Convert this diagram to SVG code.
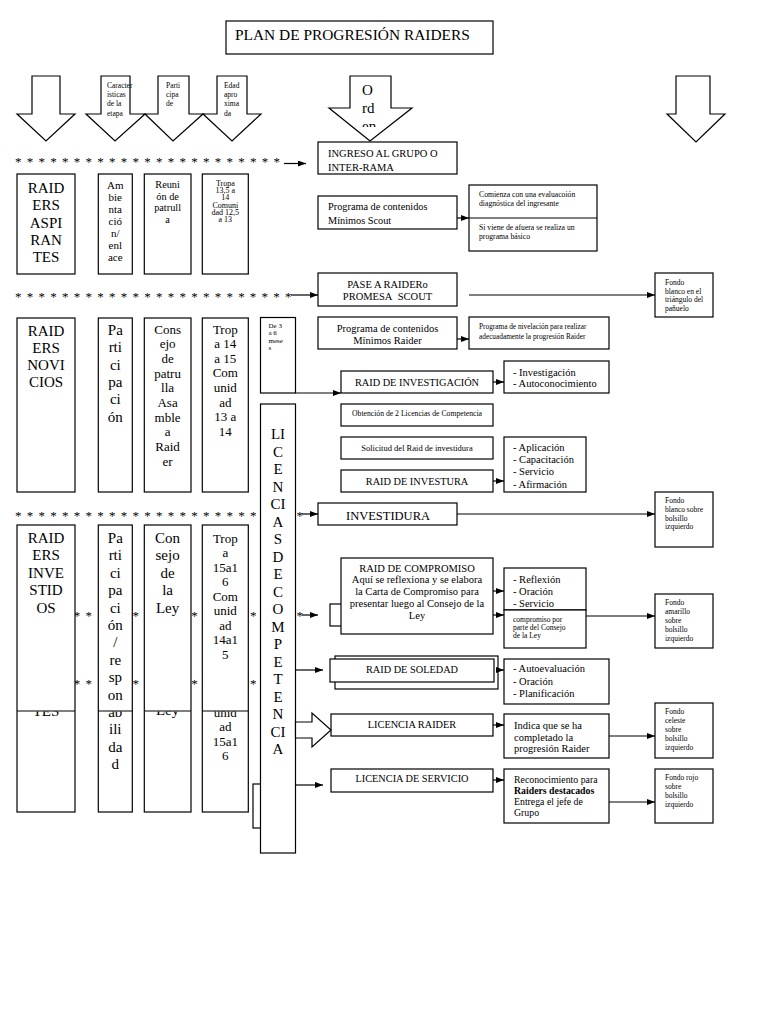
<svg xmlns="http://www.w3.org/2000/svg" width="768" height="1024" viewBox="0 0 768 1024">
<defs>
<style>
.b{fill:#fff;stroke:#000;stroke-width:1.2}
.ln{fill:none;stroke:#000;stroke-width:1.2}
.ar{fill:none;stroke:#000;stroke-width:1.2;marker-end:url(#ah)}
text{font-family:"Liberation Serif","Times New Roman",serif;fill:#000}
.m{text-anchor:middle}
.st{font-size:13px}
.f15{font-size:15px}
.f13{font-size:13px}
.f125{font-size:12.5px}
.f11{font-size:11px}
.f105{font-size:10.5px}
.f10{font-size:10.3px}
.f98{font-size:9.8px}
.f85{font-size:8.5px}
.f8{font-size:8px}
.f78{font-size:7.7px}
.f75{font-size:7.5px}
.f73{font-size:7.3px}
.f7{font-size:7px}
</style>
<marker id="ah" markerWidth="8" markerHeight="6" refX="8" refY="3" orient="auto" markerUnits="userSpaceOnUse"><path d="M0,0L8,3L0,6z" fill="#000"/></marker>
<clipPath id="cOrden"><rect x="330" y="76" width="80" height="51"/></clipPath>
<clipPath id="cLow"><rect x="0" y="711.6" width="259" height="100"/></clipPath>
</defs>
<rect width="768" height="1024" fill="#fff"/>

<g id="title"><rect class="b" x="226" y="21" width="267" height="33"/><text x="235" y="40" style="font-size:15.4px">PLAN DE PROGRESIÓN RAIDERS</text></g>

<g id="arrow-1"><polygon class="b" points="32,76 60,76 60,114 75,114 46,141 17,114 32,114"/></g>
<g id="arrow-caracteristicas"><polygon class="b" points="101,76 130,76 130,114 145,114 115,141 86,114 101,114"/>
<text class="f75"><tspan x="107" y="87.5">Caracter</tspan><tspan x="107" y="96.8">ísticas</tspan><tspan x="107" y="106.2">de la</tspan><tspan x="107" y="115.5">etapa</tspan></text></g>
<g id="arrow-participacion"><polygon class="b" points="158,76 189,76 189,114 203,114 173,141 145,114 158,114"/>
<text class="f75"><tspan x="166" y="87.5">Parti</tspan><tspan x="166" y="96.8">cipa</tspan><tspan x="166" y="106.2">de</tspan></text></g>
<g id="arrow-edad"><polygon class="b" points="217,76 247,76 247,114 261,114 232,141 203,114 217,114"/>
<text class="f75"><tspan x="224" y="87.5">Edad</tspan><tspan x="224" y="96.8">apro</tspan><tspan x="224" y="106.2">xima</tspan><tspan x="224" y="115.5">da</tspan></text></g>
<g id="arrow-orden"><polygon class="b" points="350,76 391,76 391,108 412,108 370,141 329,108 350,108"/>
<g clip-path="url(#cOrden)"><text class="f15"><tspan x="362" y="95">O</tspan><tspan x="362" y="113">rd</tspan><tspan x="362" y="131">en</tspan></text></g></g>
<g id="arrow-right"><polygon class="b" points="676,76 710,76 710,114 725,114 696,142 667,114 676,114"/></g>

<g id="stars">
<text class="st" x="15" y="166.2" textLength="265" lengthAdjust="spacing">* * * * * * * * * * * * * * * * * * * * * * *</text>
<text class="st" x="15" y="301.2" textLength="276.6" lengthAdjust="spacing">* * * * * * * * * * * * * * * * * * * * * * * *</text>
<text class="st" x="15" y="520.2" textLength="241.6" lengthAdjust="spacing">* * * * * * * * * * * * * * * * * * * * *</text>
<text class="st" y="520.2"><tspan x="296.5">*</tspan></text>
<text class="st" y="620.2"><tspan x="73.7">*</tspan><tspan x="85.5">*</tspan><tspan x="132.5">*</tspan><tspan x="191.3">*</tspan><tspan x="250">*</tspan><tspan x="296.5">*</tspan></text>
<text class="st" y="688.2"><tspan x="73.7">*</tspan><tspan x="85.5">*</tspan><tspan x="132.5">*</tspan><tspan x="191.3">*</tspan><tspan x="250">*</tspan></text>
</g>

<g id="ingreso"><rect class="b" x="318" y="142" width="139" height="32"/><text class="f105"><tspan x="328" y="156.5">INGRESO AL GRUPO O</tspan><tspan x="328" y="170.5">INTER-RAMA</tspan></text></g>
<g id="programa-scout"><rect class="b" x="318" y="196" width="139" height="33"/><text class="f10"><tspan x="328" y="210">Programa de contenidos</tspan><tspan x="328" y="223.5">Mínimos Scout</tspan></text></g>
<g id="comienza"><rect class="b" x="469" y="185" width="128" height="66"/><line class="ln" x1="469" y1="218" x2="597" y2="218"/>
<text class="f78"><tspan x="479" y="196.8">Comienza con una evaluacoión</tspan><tspan x="479" y="205.8">diagnóstica del ingresante</tspan><tspan x="479" y="229.8">Si viene de afuera se realiza un</tspan><tspan x="479" y="239">programa básico</tspan></text></g>

<g id="aspirantes"><rect class="b" x="17" y="174" width="58" height="100"/><text class="f15 m"><tspan x="46" y="193">RAID</tspan><tspan x="46" y="210.3">ERS</tspan><tspan x="46" y="227.6">ASPI</tspan><tspan x="46" y="244.9">RAN</tspan><tspan x="46" y="262.2">TES</tspan></text></g>
<g id="ambientacion"><rect class="b" x="98.3" y="174" width="34" height="100"/><text class="f11 m"><tspan x="115.3" y="188.6">Am</tspan><tspan x="115.3" y="200.7">bie</tspan><tspan x="115.3" y="212.8">nta</tspan><tspan x="115.3" y="224.9">ció</tspan><tspan x="115.3" y="237">n/</tspan><tspan x="115.3" y="249.1">enl</tspan><tspan x="115.3" y="261.2">ace</tspan></text></g>
<g id="reunion"><rect class="b" x="144.3" y="174" width="46.7" height="100"/><text class="f10 m"><tspan x="167.6" y="188">Reuni</tspan><tspan x="167.6" y="199.5">ón de</tspan><tspan x="167.6" y="211">patrull</tspan><tspan x="167.6" y="222.5">a</tspan></text></g>
<g id="tropa-1"><rect class="b" x="202.3" y="174" width="46" height="100"/><text class="f8 m"><tspan x="225.3" y="186">Tropa</tspan><tspan x="225.3" y="193.2">13,5 a</tspan><tspan x="225.3" y="200.4">14</tspan><tspan x="225.3" y="207.6">Comuni</tspan><tspan x="225.3" y="214.8">dad 12,5</tspan><tspan x="225.3" y="222">a 13</tspan></text></g>

<g id="pase"><rect class="b" x="318" y="273" width="139" height="33"/><text class="f105 m"><tspan x="387.5" y="288">PASE A RAIDERo</tspan><tspan x="387.5" y="300">PROMESA&#160; SCOUT</tspan></text></g>
<g id="fondo-1"><rect class="b" x="655" y="273" width="58" height="44"/><text class="f75"><tspan x="665" y="285.3">Fondo</tspan><tspan x="665" y="293.8">blanco en el</tspan><tspan x="665" y="302.3">triángulo del</tspan><tspan x="665" y="310.8">pañuelo</tspan></text></g>

<g id="novicios"><rect class="b" x="17" y="318" width="58" height="174"/><text class="f15 m"><tspan x="46" y="336">RAID</tspan><tspan x="46" y="353">ERS</tspan><tspan x="46" y="370">NOVI</tspan><tspan x="46" y="387">CIOS</tspan></text></g>
<g id="participacion-2"><rect class="b" x="98.3" y="318" width="34" height="174"/><text class="f15 m"><tspan x="115.3" y="335">Pa</tspan><tspan x="115.3" y="352.3">rti</tspan><tspan x="115.3" y="369.6">ci</tspan><tspan x="115.3" y="386.9">pa</tspan><tspan x="115.3" y="404.2">ci</tspan><tspan x="115.3" y="421.5">ón</tspan></text></g>
<g id="consejo-patrulla"><rect class="b" x="144.3" y="318" width="46.7" height="174"/><text class="f13 m"><tspan x="167.6" y="333.5">Cons</tspan><tspan x="167.6" y="348.2">ejo</tspan><tspan x="167.6" y="362.9">de</tspan><tspan x="167.6" y="377.6">patru</tspan><tspan x="167.6" y="392.3">lla</tspan><tspan x="167.6" y="407">Asa</tspan><tspan x="167.6" y="421.7">mble</tspan><tspan x="167.6" y="436.4">a</tspan><tspan x="167.6" y="451.1">Raid</tspan><tspan x="167.6" y="465.8">er</tspan></text></g>
<g id="tropa-2"><rect class="b" x="202.3" y="318" width="46" height="174"/><text class="f13 m"><tspan x="225.3" y="333.5">Trop</tspan><tspan x="225.3" y="348.1">a 14</tspan><tspan x="225.3" y="362.7">a 15</tspan><tspan x="225.3" y="377.3">Com</tspan><tspan x="225.3" y="391.9">unid</tspan><tspan x="225.3" y="406.5">ad</tspan><tspan x="225.3" y="421.1">13 a</tspan><tspan x="225.3" y="435.7">14</tspan></text></g>
<g id="meses"><rect class="b" x="260.5" y="317.5" width="35" height="75.5"/><text class="f7"><tspan x="268.5" y="327.5">De 3</tspan><tspan x="268.5" y="335">a 6</tspan><tspan x="268.5" y="342.5">mese</tspan><tspan x="268.5" y="350">s</tspan></text></g>

<g id="programa-raider"><rect class="b" x="318" y="317" width="139" height="32"/><text class="f105 m"><tspan x="387.5" y="332">Programa de contenidos</tspan><tspan x="387.5" y="344">Mínimos Raider</tspan></text></g>
<g id="nivelacion"><rect class="b" x="469" y="317" width="140" height="32"/><text class="f73"><tspan x="479" y="328.5">Programa de nivelación para realizar</tspan><tspan x="479" y="338.5">adecuadamente la progresión Raider</tspan></text></g>
<g id="raid-investigacion"><rect class="b" x="341" y="371" width="152" height="22"/><text class="f10 m" x="417" y="385.7">RAID DE INVESTIGACIÓN</text></g>
<g id="investigacion-list"><rect class="b" x="504" y="361" width="105" height="32"/><text class="f105"><tspan x="513" y="375.5">- Investigación</tspan><tspan x="513" y="386.5">- Autoconocimiento</tspan></text></g>
<g id="obtencion"><rect class="b" x="341" y="404" width="152" height="22"/><text class="f78 m" x="417" y="415.5">Obtención de 2 Licencias de Competencia</text></g>
<g id="solicitud"><rect class="b" x="341" y="437" width="152" height="22"/><text class="f85 m" x="417" y="450.5">Solicitud del Raid de investidura</text></g>
<g id="raid-investura"><rect class="b" x="341" y="470" width="152" height="22"/><text class="f10 m" x="417" y="485">RAID DE INVESTURA</text></g>
<g id="aplicacion-list"><rect class="b" x="504" y="437" width="82" height="55"/><text class="f105"><tspan x="513" y="450.5">- Aplicación</tspan><tspan x="513" y="462.9">- Capacitación</tspan><tspan x="513" y="475.3">- Servicio</tspan><tspan x="513" y="487.7">- Afirmación</tspan></text></g>

<g id="investidos"><rect class="b" x="17" y="525" width="58" height="287"/><line class="ln" x1="17" y1="711" x2="75" y2="711"/><text class="f15 m"><tspan x="46" y="543">RAID</tspan><tspan x="46" y="560.4">ERS</tspan><tspan x="46" y="577.8">INVE</tspan><tspan x="46" y="595.2">STID</tspan><tspan x="46" y="612.6">OS</tspan></text><text class="f15 m" x="46" y="716" clip-path="url(#cLow)">TES</text></g>
<g id="participacion-3"><rect class="b" x="98.3" y="525" width="34" height="287"/><line class="ln" x1="98.3" y1="711" x2="132.3" y2="711"/><text class="f15 m"><tspan x="115.3" y="543">Pa</tspan><tspan x="115.3" y="560.4">rti</tspan><tspan x="115.3" y="577.8">ci</tspan><tspan x="115.3" y="595.2">pa</tspan><tspan x="115.3" y="612.6">ci</tspan><tspan x="115.3" y="630">ón</tspan><tspan x="115.3" y="647.4">/</tspan><tspan x="115.3" y="664.8">re</tspan><tspan x="115.3" y="682.2">sp</tspan><tspan x="115.3" y="699.6">on</tspan><tspan x="115.3" y="734.4">ili</tspan><tspan x="115.3" y="751.8">da</tspan><tspan x="115.3" y="769.2">d</tspan></text><text class="f15 m" x="115.3" y="717" clip-path="url(#cLow)">ab</text></g>
<g id="consejo-ley"><rect class="b" x="144.3" y="525" width="46.7" height="287"/><line class="ln" x1="144.3" y1="711" x2="191" y2="711"/><text class="f15 m"><tspan x="167.6" y="543">Con</tspan><tspan x="167.6" y="560.4">sejo</tspan><tspan x="167.6" y="577.8">de</tspan><tspan x="167.6" y="595.2">la</tspan><tspan x="167.6" y="612.6">Ley</tspan></text><text class="f15 m" x="167.6" y="715" clip-path="url(#cLow)">Ley</text></g>
<g id="tropa-3"><rect class="b" x="202.3" y="525" width="46" height="287"/><line class="ln" x1="202.3" y1="711" x2="248.3" y2="711"/><text class="f13 m"><tspan x="225.3" y="542.5">Trop</tspan><tspan x="225.3" y="557">a</tspan><tspan x="225.3" y="571.5">15a1</tspan><tspan x="225.3" y="586">6</tspan><tspan x="225.3" y="600.5">Com</tspan><tspan x="225.3" y="615">unid</tspan><tspan x="225.3" y="629.5">ad</tspan><tspan x="225.3" y="644">14a1</tspan><tspan x="225.3" y="658.5">5</tspan><tspan x="225.3" y="731">ad</tspan><tspan x="225.3" y="745.5">15a1</tspan><tspan x="225.3" y="760">6</tspan></text><text class="f13 m" x="225.3" y="717" clip-path="url(#cLow)">unid</text></g>

<g id="small-box"><rect class="b" x="253" y="784" width="8" height="44"/></g>
<g id="licencias"><rect class="b" x="260.5" y="404" width="35" height="449"/><text class="f15 m"><tspan x="278" y="439">LI</tspan><tspan x="278" y="456.5">C</tspan><tspan x="278" y="474">E</tspan><tspan x="278" y="491.5">N</tspan><tspan x="278" y="509">CI</tspan><tspan x="278" y="526.5">A</tspan><tspan x="278" y="544">S</tspan><tspan x="278" y="561.5">D</tspan><tspan x="278" y="579">E</tspan><tspan x="278" y="596.5">C</tspan><tspan x="278" y="614">O</tspan><tspan x="278" y="631.5">M</tspan><tspan x="278" y="649">P</tspan><tspan x="278" y="666.5">E</tspan><tspan x="278" y="684">T</tspan><tspan x="278" y="701.5">E</tspan><tspan x="278" y="719">N</tspan><tspan x="278" y="736.5">CI</tspan><tspan x="278" y="754">A</tspan></text></g>

<g id="investidura"><rect class="b" x="318" y="503" width="139" height="22"/><text class="f125 m" x="388" y="519.5">INVESTIDURA</text></g>
<g id="fondo-2"><rect class="b" x="655" y="492" width="58" height="55"/><text class="f75"><tspan x="665" y="503">Fondo</tspan><tspan x="665" y="511.8">blanco sobre</tspan><tspan x="665" y="520.6">bolsillo</tspan><tspan x="665" y="529.4">izquierdo</tspan></text></g>

<g id="hidden-box"><rect class="b" x="330" y="604" width="20" height="22"/></g>
<g id="raid-compromiso"><rect class="b" x="341" y="558" width="152" height="76"/><text class="f105 m"><tspan x="417" y="571.5">RAID DE COMPROMISO</tspan><tspan x="417" y="583.3">Aquí se reflexiona y se elabora</tspan><tspan x="417" y="595.1">la Carta de Compromiso para</tspan><tspan x="417" y="606.9">presentar luego al Consejo de la</tspan><tspan x="417" y="618.7">Ley</tspan></text></g>
<g id="reflexion-list"><rect class="b" x="504" y="568" width="82" height="42"/><text class="f105"><tspan x="513" y="582.8">- Reflexión</tspan><tspan x="513" y="595">- Oración</tspan><tspan x="513" y="606.8">- Servicio</tspan></text></g>
<g id="compromiso-consejo"><rect class="b" x="504" y="610" width="82" height="38"/><text class="f75"><tspan x="513" y="622.3">compromiso por</tspan><tspan x="513" y="630.3">parte del Consejo</tspan><tspan x="513" y="638.3">de la Ley</tspan></text></g>
<g id="fondo-3"><rect class="b" x="655" y="594" width="58" height="54"/><text class="f75"><tspan x="665" y="605">Fondo</tspan><tspan x="665" y="613.9">amarillo</tspan><tspan x="665" y="622.8">sobre</tspan><tspan x="665" y="631.7">bolsillo</tspan><tspan x="665" y="640.6">izquierdo</tspan></text></g>

<g id="raid-soledad"><rect class="b" x="335" y="656" width="163" height="33"/><rect class="b" x="330" y="659" width="164" height="23"/><text class="f10 m" x="412" y="673">RAID DE SOLEDAD</text></g>
<g id="autoevaluacion-list"><rect class="b" x="504" y="659" width="105" height="45"/><text class="f105"><tspan x="513" y="672.4">- Autoevaluación</tspan><tspan x="513" y="684.8">- Oración</tspan><tspan x="513" y="697">- Planificación</tspan></text></g>

<g id="licencia-raider"><rect class="b" x="331" y="714" width="162" height="22"/><text class="f10 m" x="412" y="728">LICENCIA RAIDER</text></g>
<g id="indica"><rect class="b" x="504" y="714" width="105" height="44"/><text class="f105"><tspan x="514" y="729">Indica que se ha</tspan><tspan x="514" y="740.5">completado la</tspan><tspan x="514" y="752">progresión Raider</tspan></text></g>
<g id="fondo-4"><rect class="b" x="655" y="703" width="58" height="55"/><text class="f75"><tspan x="665" y="714">Fondo</tspan><tspan x="665" y="723">celeste</tspan><tspan x="665" y="732">sobre</tspan><tspan x="665" y="741">bolsillo</tspan><tspan x="665" y="750">izquierdo</tspan></text></g>

<g id="licencia-servicio"><rect class="b" x="331" y="769" width="162" height="23"/><text class="f10 m" x="412" y="781.5">LICENCIA DE SERVICIO</text></g>
<g id="reconocimiento"><rect class="b" x="504" y="769" width="105" height="54"/><text class="f98"><tspan x="514" y="782.5">Reconocimiento para</tspan><tspan x="514" y="794" font-weight="bold">Raiders destacados</tspan><tspan x="514" y="805">Entrega el jefe de</tspan><tspan x="514" y="816">Grupo</tspan></text></g>
<g id="fondo-5"><rect class="b" x="655" y="769" width="58" height="54"/><text class="f75"><tspan x="665" y="780">Fondo rojo</tspan><tspan x="665" y="789">sobre</tspan><tspan x="665" y="798">bolsillo</tspan><tspan x="665" y="807">izquierdo</tspan></text></g>

<g id="connectors">
<path class="ar" d="M284,163.5H306"/>
<path class="ar" d="M457,218H469"/>
<path class="ar" d="M291,295H318"/>
<path class="ar" d="M469,295H655"/>
<path class="ar" d="M457,339H469"/>
<path class="ar" d="M295.5,393H341"/>
<path class="ar" d="M493,382H504"/>
<path class="ar" d="M493,481H504"/>
<path class="ar" d="M302,514H318"/>
<path class="ar" d="M457,514H655"/>
<path class="ar" d="M302,615H318"/>
<path class="ar" d="M493,591H504"/>
<path class="ar" d="M493,615H504"/>
<path class="ar" d="M586,616H655"/>
<path class="ar" d="M296,670H323"/>
<path class="ar" d="M496,670H504"/>
<polygon class="b" points="295.5,722 312,722 312,713 331,730 312,747 312,738 295.5,738"/>
<path class="ar" d="M493,725H504"/>
<path class="ar" d="M609,736H655"/>
<path class="ar" d="M296,785H323"/>
<path class="ar" d="M493,780H504"/>
<path class="ar" d="M609,802H655"/>
</g>
</svg>
